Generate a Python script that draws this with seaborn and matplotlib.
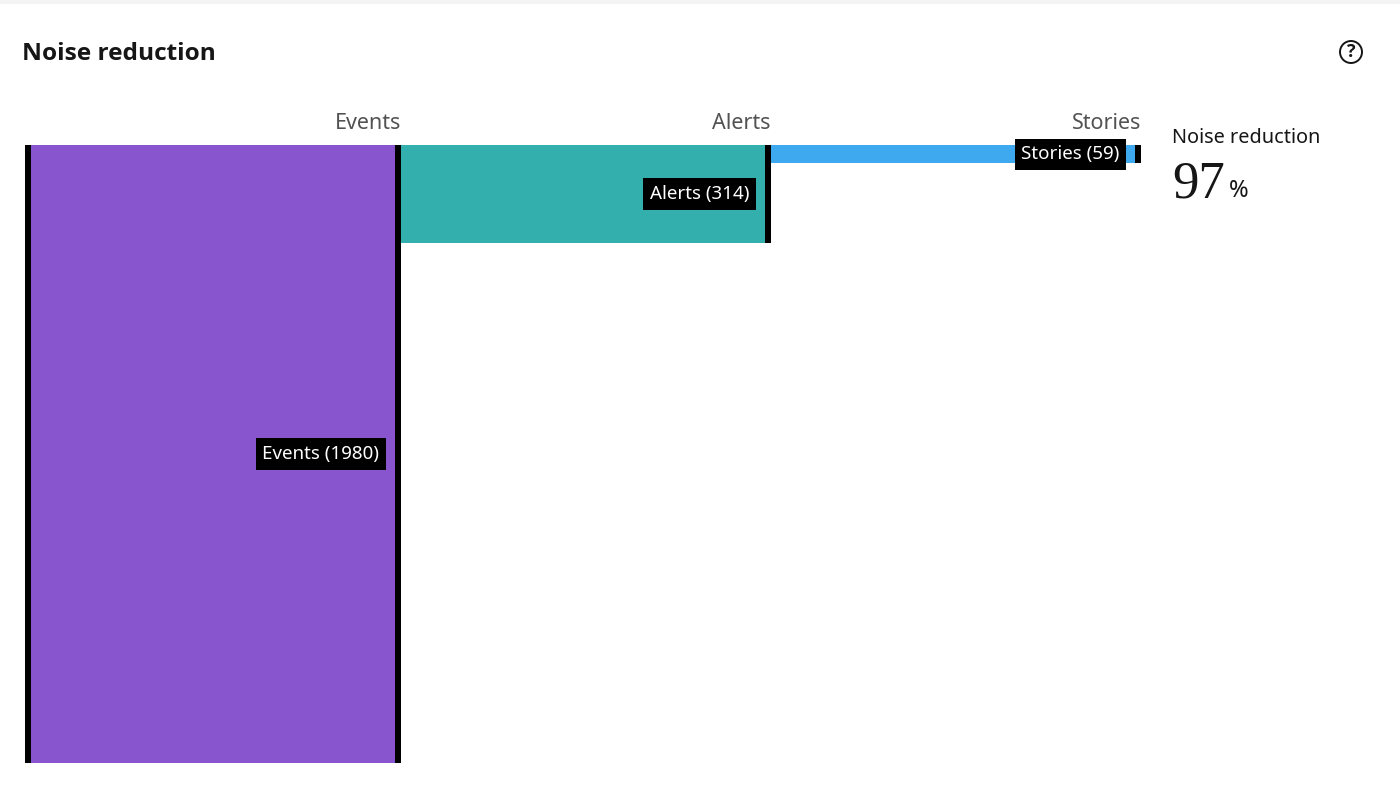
"""Noise reduction funnel from events to alerts to stories."""

import matplotlib.pyplot as plt
from matplotlib.patches import Circle, Rectangle
import seaborn as sns

stages = ["Events", "Alerts", "Stories"]
counts = [1980, 314, 59]
stage_colors = ["#8955CE", "#33B0AE", "#3FA9F0"]
title = "Noise reduction"
reduction_pct = "97"

W, H = 1400, 790
sns.set_theme(style="white")
plt.rcParams["font.family"] = ["Noto Sans", "DejaVu Sans"]

fig = plt.figure(figsize=(W / 100, H / 100), dpi=100, facecolor="white")
# bars span 31..1141 px across, 145..763 px down
ax = fig.add_axes([31 / W, 1 - 763 / H, 1110 / W, 618 / H])

sns.barplot(x=stages, y=counts, hue=stages, palette=stage_colors, width=1,
            saturation=1, legend=False, linewidth=0, ax=ax)

# black end caps on each column
cap = 6.5 / 370
ax.bar(-0.5 - cap / 2, counts[0], width=cap, color="black", linewidth=0,
       clip_on=False)
for i, n in enumerate(counts):
    ax.bar(i + 0.5 - cap / 2, n, width=cap, color="black", linewidth=0)
    ax.annotate(f"{stages[i]} ({n})", (i + 0.5, n / 2), xytext=(-15.5, 0),
                textcoords="offset points", ha="right", va="center",
                color="white", fontsize=13.5,
                bbox=dict(boxstyle="square,pad=0.35", fc="black", ec="none"))

ax.set_xlim(-0.5, 2.5)
ax.set_ylim(counts[0], 0)
ax.set_ylabel("")
ax.set_yticks([])
ax.xaxis.tick_top()
ax.set_xticks([0.5, 1.5, 2.5], labels=stages, ha="right", fontsize=15.5,
              color="#525252")
ax.tick_params(axis="x", length=0, pad=8)
sns.despine(ax=ax, left=True, bottom=True, top=True, right=True)

# page furniture, in pixel coordinates
page = fig.add_axes([0, 0, 1, 1], zorder=-1)
page.set_xlim(0, W)
page.set_ylim(H, 0)
page.axis("off")
page.add_patch(Rectangle((0, 0), W, 4, fc="#F4F4F4", ec="none"))
page.text(22, 60, title, fontsize=17.6, fontweight="bold", family="Open Sans",
          color="#161616")
page.add_patch(Circle((1351, 52), 11, fc="none", ec="#161616", lw=1.4))
page.text(1351, 52, "?", fontsize=13, fontweight="bold", family="Open Sans",
          color="#161616", ha="center", va="center")
page.text(1172, 143, title, fontsize=14.3, color="#161616")
page.text(1172, 197, reduction_pct, fontsize=38, family="Liberation Serif",
          color="#161616")
page.text(1229, 197, "%", fontsize=17, color="#161616")

fig.savefig("out.png", dpi=100)
plt.close(fig)
